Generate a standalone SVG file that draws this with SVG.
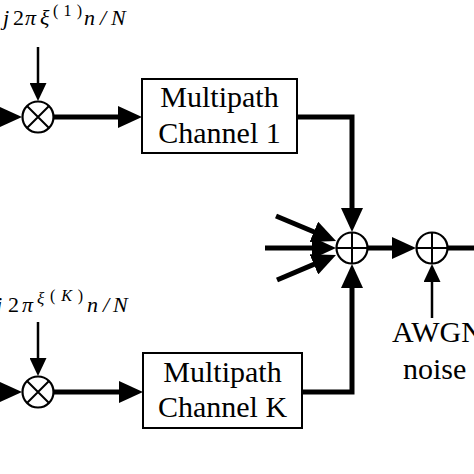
<svg xmlns="http://www.w3.org/2000/svg" width="474" height="474" viewBox="0 0 474 474">
<style>
.thick{fill:none;stroke:#000;stroke-width:5;marker-end:url(#ah)}
.thin{fill:none;stroke:#000;stroke-width:2.5;marker-end:url(#at)}
.plain{fill:none;stroke:#000;stroke-width:5}
.node{fill:#fff;stroke:#000;stroke-width:2}
.op{fill:#fff;stroke:#000;stroke-width:2.2}
.cross{stroke:#000;stroke-width:2}
.lbl{font-family:"Liberation Serif","Times New Roman",serif;font-size:30px;fill:#000}
.math{font-family:"Liberation Serif","Times New Roman",serif;font-size:22px;font-style:italic;fill:#000}
.up{font-style:normal}
</style>
<defs>
<marker id="ah" markerUnits="userSpaceOnUse" markerWidth="24" markerHeight="22" refX="14" refY="11" orient="auto"><path d="M0,0 L24,11 L0,22 z" fill="#000"/></marker>
<marker id="at" markerUnits="userSpaceOnUse" markerWidth="18" markerHeight="17" refX="10" refY="8.5" orient="auto"><path d="M0,0 L18,8.5 L0,17 z" fill="#000"/></marker>
</defs>
<rect width="474" height="474" fill="#fff"/>
<g id="connectors">
<path class="thick" d="M-10,117 H12"/>
<path class="thin" d="M38,47 V93"/>
<path class="thick" d="M54,117 H132"/>
<path class="thick" d="M297,117 H352 V222"/>
<path class="thick" d="M265,248 H326"/>
<path class="thick" d="M276,216 L326.8,237.2"/>
<path class="thick" d="M277,280 L326.8,258.9"/>
<path class="thick" d="M368,248 H406"/>
<path class="thick" d="M302,392 H352 V274"/>
<path class="thin" d="M432,318 V272"/>
<path class="plain" d="M448,248 H480"/>
<path class="thick" d="M-10,392 H12"/>
<path class="thin" d="M38,322 V368"/>
<path class="thick" d="M54,392 H133"/>
</g>
<g id="label-phase1">
<text class="math" y="25"><tspan x="3">j</tspan><tspan x="13" class="up">2</tspan><tspan x="25">π</tspan><tspan x="40">ξ</tspan></text>
<text class="math up" x="53" y="16" style="font-size:16px" textLength="29" lengthAdjust="spacing">(1)</text>
<text class="math" y="25"><tspan x="84">n</tspan><tspan x="100">/</tspan><tspan x="111">N</tspan></text>
</g>
<g id="mixer1">
<circle class="op" cx="38" cy="117" r="15.5"/>
<path class="cross" d="M27,106 L49,128 M49,106 L27,128"/>
</g>
<g id="channel1">
<rect class="node" x="142" y="79" width="155" height="74"/>
<text class="lbl" x="219.5" y="107" text-anchor="middle">Multipath</text>
<text class="lbl" x="219.5" y="143" text-anchor="middle">Channel 1</text>
</g>
<g id="label-phaseK">
<text class="math" y="312"><tspan x="-4">j</tspan><tspan x="8" class="up">2</tspan><tspan x="22">π</tspan></text>
<text class="math" x="37" y="304" style="font-size:17px">ξ</text>
<text class="math up" x="50" y="301" style="font-size:16px" textLength="33" lengthAdjust="spacing">(<tspan style="font-style:italic">K</tspan>)</text>
<text class="math" y="312"><tspan x="87">n</tspan><tspan x="103">/</tspan><tspan x="113">N</tspan></text>
</g>
<g id="mixerK">
<circle class="op" cx="38" cy="392" r="15.5"/>
<path class="cross" d="M27,381 L49,403 M49,381 L27,403"/>
</g>
<g id="channelK">
<rect class="node" x="143" y="353" width="159" height="75"/>
<text class="lbl" x="222.5" y="382" text-anchor="middle">Multipath</text>
<text class="lbl" x="222.5" y="417" text-anchor="middle">Channel K</text>
</g>
<g id="sum">
<circle class="op" cx="352" cy="248" r="15.5"/>
<path class="cross" d="M336.5,248 H367.5 M352,232.5 V263.5"/>
</g>
<g id="noise-add">
<circle class="op" cx="432" cy="248" r="15.5"/>
<path class="cross" d="M416.5,248 H447.5 M432,232.5 V263.5"/>
</g>
<g id="awgn">
<text class="lbl" x="392" y="342">AWGN</text>
<text class="lbl" x="403" y="379">noise</text>
</g>
</svg>
